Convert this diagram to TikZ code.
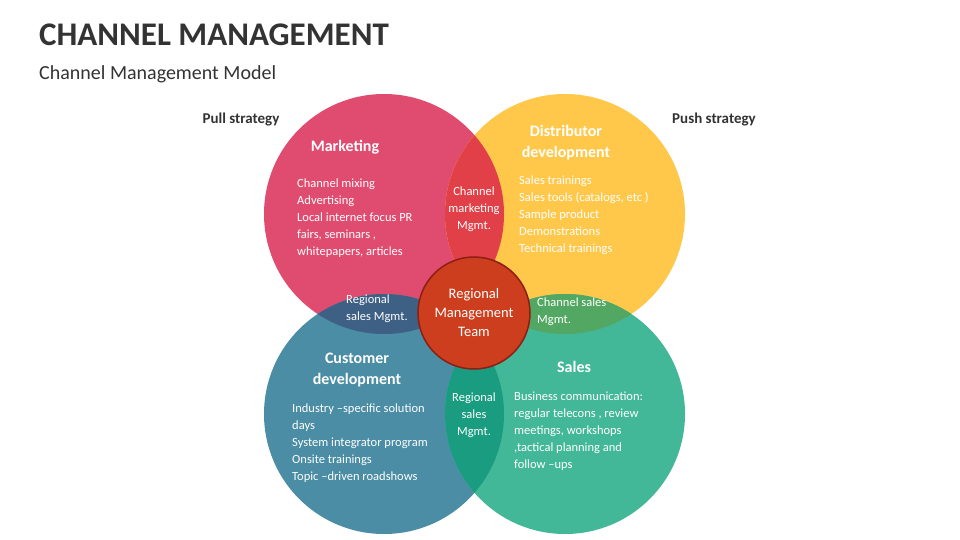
\documentclass[tikz,border=0pt]{standalone}
\usepackage{fontspec}
\setmainfont{Carlito}
\begin{document}
\begin{tikzpicture}[x=1pt,y=-1pt,
  body/.style={text=white,align=left,anchor=north west,inner sep=0pt,font=\fontsize{12.5}{17}\selectfont},
  cbody/.style={text=white,align=center,inner sep=0pt,font=\fontsize{12.5}{17}\selectfont},
  head/.style={text=white,align=center,inner sep=0pt,font=\bfseries\fontsize{16}{21}\selectfont},
  side/.style={text=black!80,inner sep=0pt,font=\bfseries\fontsize{15}{18}\selectfont}]
\useasboundingbox (0,0) rectangle (960,540);
\fill[white] (0,0) rectangle (960,540);
\def\R{120}
\coordinate (m) at (384,214);
\coordinate (d) at (565,214);
\coordinate (c) at (384,414);
\coordinate (s) at (565,414);
\fill[color={rgb,255:red,224;green,76;blue,112}] (m) circle (\R);
\fill[color={rgb,255:red,255;green,200;blue,75}] (d) circle (\R);
\fill[color={rgb,255:red,74;green,141;blue,164}] (c) circle (\R);
\fill[color={rgb,255:red,67;green,184;blue,152}] (s) circle (\R);
\begin{scope}\clip (m) circle (\R); \fill[color={rgb,255:red,226;green,64;blue,72}] (d) circle (\R);\end{scope}
\begin{scope}\clip (m) circle (\R); \fill[color={rgb,255:red,62;green,96;blue,132}] (c) circle (\R);\end{scope}
\begin{scope}\clip (d) circle (\R); \fill[color={rgb,255:red,82;green,168;blue,98}] (s) circle (\R);\end{scope}
\begin{scope}\clip (c) circle (\R); \fill[color={rgb,255:red,26;green,156;blue,128}] (s) circle (\R);\end{scope}
\node[circle,minimum size=112pt,inner sep=0pt,fill={rgb,255:red,204;green,62;blue,30},draw={rgb,255:red,140;green,30;blue,20},line width=1.5pt,text=white,align=center,font=\fontsize{14.5}{19}\selectfont] (team) at (474,313) {Regional\\Management\\Team};
\node[anchor=west,inner sep=0pt,text=black!80,font=\bfseries\fontsize{33}{36}\selectfont] (title) at (39,35) {CHANNEL MANAGEMENT};
\node[anchor=west,inner sep=0pt,text=black!80,font=\fontsize{20}{24}\selectfont] (sub) at (39,74) {Channel Management Model};
\node[side] (pull) at (241,120) {Pull strategy};
\node[side] (push) at (714,120) {Push strategy};
\node[head] (mh) at (345,147) {Marketing};
\node[body] (mb) at (297,179) {Channel mixing\\Advertising\\Local internet focus PR\\fairs, seminars ,\\whitepapers, articles};
\node[cbody] (cm) at (474,209) {Channel\\marketing\\Mgmt.};
\node[head] (dh) at (566,143) {Distributor\\development};
\node[body] (db) at (519,176) {Sales trainings\\Sales tools (catalogs, etc )\\Sample product\\Demonstrations\\Technical trainings};
\node[body] (rs1) at (346,295) {Regional\\sales Mgmt.};
\node[body] (cs) at (537,298) {Channel sales\\Mgmt.};
\node[head] (ch) at (357,370) {Customer\\development};
\node[body] (cb) at (292,404) {Industry --specific solution\\days\\System integrator program\\Onsite trainings\\Topic --driven roadshows};
\node[cbody] (rs2) at (474,415) {Regional\\sales\\Mgmt.};
\node[head] (sh) at (574,367) {Sales};
\node[body] (sb) at (514,392) {Business communication:\\regular telecons , review\\meetings, workshops\\,tactical planning and\\follow --ups};
\end{tikzpicture}
\end{document}
